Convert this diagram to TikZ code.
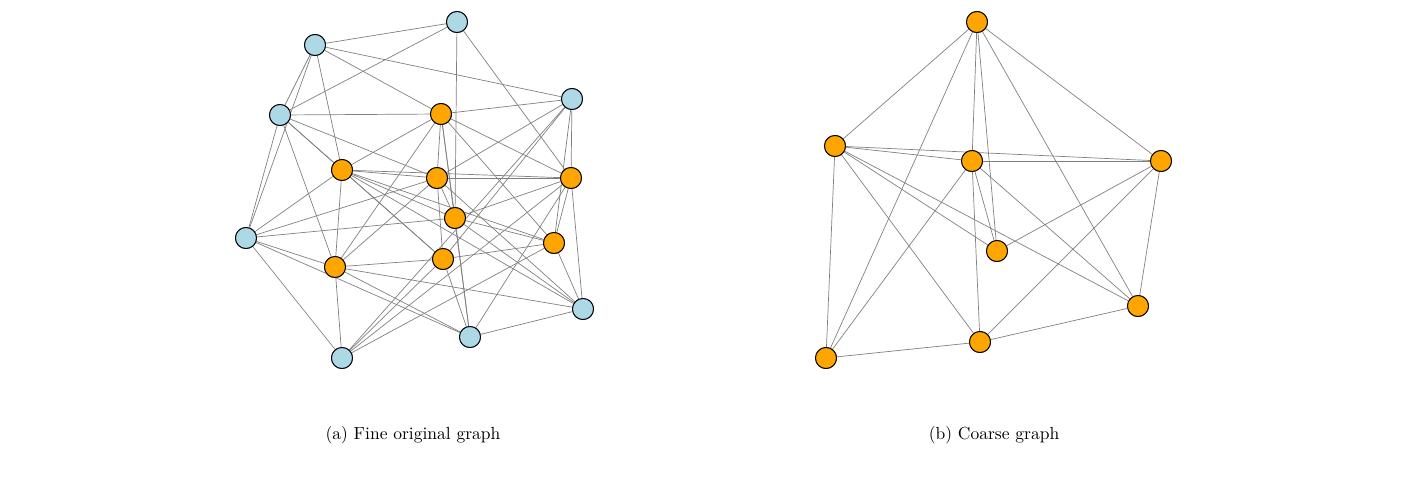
\documentclass[tikz,border=0pt]{standalone}
\begin{document}
\begin{tikzpicture}[x=1pt,y=-1pt,
  vb/.style={circle,draw=black,line width=0.9pt,fill={rgb,255:red,173;green,216;blue,230},minimum size=21pt,inner sep=0pt},
  vo/.style={circle,draw=black,line width=0.9pt,fill={rgb,255:red,255;green,165;blue,0},minimum size=21pt,inner sep=0pt},
  ed/.style={draw=gray,line width=0.7pt},
  captxt/.style={scale=1.75,inner sep=0pt}]
\useasboundingbox (0,0) rectangle (1409,485);
% left graph
\node[vb] (A) at (457,22) {};
\node[vb] (B) at (315,45) {};
\node[vb] (C) at (280,115) {};
\node[vb] (D) at (572,99) {};
\node[vo] (E) at (441,114) {};
\node[vo] (F) at (342,170) {};
\node[vo] (G) at (437,178) {};
\node[vo] (H) at (571,178) {};
\node[vo] (I) at (455,218) {};
\node[vb] (J) at (246,238) {};
\node[vo] (K) at (554,243) {};
\node[vo] (L) at (443,259) {};
\node[vo] (M) at (335,267) {};
\node[vb] (N) at (583,309) {};
\node[vb] (O) at (470,337) {};
\node[vb] (P) at (342,358) {};
\foreach \u/\v in {A/B,A/C,A/I,A/H,B/D,B/E,B/C,B/J,B/F,C/E,C/F,C/G,C/L,C/J,C/M,
D/E,D/G,D/H,D/K,D/L,E/F,E/G,E/I,E/H,E/K,E/M,E/O,F/G,F/H,F/I,F/K,F/L,F/M,F/J,F/N,
G/H,G/I,G/M,G/N,G/J,G/L,H/K,H/N,H/O,H/P,H/I,I/J,I/O,I/K,I/N,K/L,K/N,K/P,L/M,L/P,L/O,
M/J,M/N,M/O,M/P,J/O,J/P,N/O,D/P}
  \path[ed] (\u) -- (\v);
% right graph
\node[vo] (a) at (977,22) {};
\node[vo] (b) at (835,146) {};
\node[vo] (c) at (972,161) {};
\node[vo] (d) at (1161,161) {};
\node[vo] (e) at (997,251) {};
\node[vo] (f) at (1138,306) {};
\node[vo] (g) at (980,342) {};
\node[vo] (h) at (826,358) {};
\foreach \u/\v in {a/b,a/h,a/c,a/e,a/f,a/d,b/c,b/d,b/e,b/f,b/g,b/h,c/d,c/e,c/g,c/h,c/f,d/e,d/g,d/f,g/h,g/f}
  \path[ed] (\u) -- (\v);
% redraw nodes on top of connectors
\foreach \x/\y in {457/22,315/45,280/115,572/99,246/238,583/309,470/337,342/358}
  \node[vb] at (\x,\y) {};
\foreach \x/\y in {441/114,342/170,437/178,571/178,455/218,554/243,443/259,335/267,
977/22,835/146,972/161,1161/161,997/251,1138/306,980/342,826/358}
  \node[vo] at (\x,\y) {};
\node[captxt] (ca) at (413,435) {(a) Fine original graph};
\node[captxt] (cb) at (994,435) {(b) Coarse graph};
\end{tikzpicture}
\end{document}
